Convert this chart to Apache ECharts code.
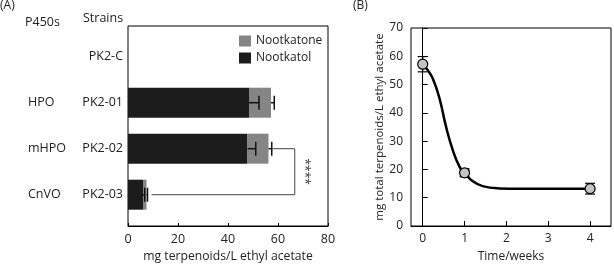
<!DOCTYPE html>
<html><head><meta charset="utf-8">
<script src="https://cdn.jsdelivr.net/npm/echarts@6/dist/echarts.min.js"></script>
<style>html,body{margin:0;padding:0;background:#fff}#c{width:614px;height:268px}</style>
</head><body><div id="c"></div>
<script>
// ---- Panel A data ----
const strains = ['PK2-C', 'PK2-01', 'PK2-02', 'PK2-03'];
const p450s = ['', 'HPO', 'mHPO', 'CnVO'];
const nootkatol = [0, 48.4, 47.8, 6.0];
const nootkatone = [0, 8.8, 8.4, 1.4];
const nootkatolErr = [0, 4.0, 3.3, 0.7];
const totalErr = [0, 1.3, 1.3, 0.4];
const sigFromStrain = 2, sigToStrain = 3;
const sigBracketX = [57.5, 66.7, 9.4];
const sigLabel = '****';
// ---- Panel B data ----
const weeks = [0, 1, 4];
const totalTerp = [57.2, 18.8, 13.2];
const totalTerpErr = [2.7, 1.4, 1.9];
const fitWeeks = [0, 0.115, 0.235, 0.396, 0.556, 0.715, 0.875, 1.0, 1.19, 1.43, 1.83, 2.3, 3, 4];
const fitValues = [57.2, 55.2, 52.3, 45.4, 35.2, 27.0, 21.1, 18.8, 15.9, 14.1, 13.3, 13.2, 13.2, 13.2];
const weekTicks = [0, 1, 2, 3, 4];

const FONT = 'Open Sans';
const TXT = '#222';

const errA = [];
for (let i = 0; i < strains.length; i++) {
  if (nootkatol[i] > 0) errA.push([i, nootkatol[i], nootkatol[i] + nootkatolErr[i]]);
  const tot = nootkatol[i] + nootkatone[i];
  if (tot > 0) errA.push([i, tot, tot + totalErr[i]]);
}

const chart = echarts.init(document.getElementById('c'), null, {renderer: 'canvas'});
chart.setOption({
  animation: false,
  backgroundColor: '#fff',
  textStyle: {fontFamily: FONT, color: TXT},
  grid: [
    {left: 128, right: 286, top: 26, bottom: 42, show: true, borderColor: '#000', borderWidth: 1, backgroundColor: 'transparent'},
    {left: 128, right: 286, top: 33.7, height: 184},
    {left: 411, right: 3, top: 28, bottom: 41, show: true, borderColor: '#000', borderWidth: 1, backgroundColor: 'transparent'}
  ],
  legend: {
    data: ['Nootkatone', 'Nootkatol'], orient: 'vertical', left: 239, top: 35,
    itemWidth: 12, itemHeight: 11, itemGap: 5, icon: 'rect',
    textStyle: {fontSize: 12, color: TXT, fontFamily: FONT}, padding: 0
  },
  xAxis: [
    {gridIndex: 0, type: 'value', min: 0, max: 80, interval: 20,
     axisLine: {show: true, lineStyle: {color: '#000'}}, axisTick: {show: true, inside: true, length: 3, lineStyle: {color: '#000'}},
     splitLine: {show: false}, axisLabel: {fontSize: 12.5, color: TXT, margin: 7, fontFamily: FONT},
     name: 'mg terpenoids/L ethyl acetate', nameLocation: 'middle', nameGap: 22,
     nameTextStyle: {fontSize: 12.2, color: TXT, fontFamily: FONT}},
    {gridIndex: 1, type: 'value', min: 0, max: 80, show: false},
    {gridIndex: 2, type: 'value', min: -0.28, max: 4.5,
     axisLine: {show: true, lineStyle: {color: '#000'}},
     axisTick: {show: true, inside: true, length: 5, customValues: weekTicks, lineStyle: {color: '#000'}},
     axisLabel: {fontSize: 12, color: TXT, margin: 7, customValues: weekTicks, fontFamily: FONT},
     splitLine: {show: false},
     name: 'Time/weeks', nameLocation: 'middle', nameGap: 25,
     nameTextStyle: {fontSize: 12, color: TXT, fontFamily: FONT}}
  ],
  yAxis: [
    {gridIndex: 0, type: 'value', show: false},
    {gridIndex: 1, type: 'category', data: strains, inverse: true,
     axisLine: {show: false}, axisTick: {show: false},
     axisLabel: {fontSize: 12.5, color: TXT, margin: 5, fontFamily: FONT}},
    {gridIndex: 1, type: 'category', data: p450s, inverse: true, position: 'left', offset: 100,
     axisLine: {show: false}, axisTick: {show: false},
     axisLabel: {inside: true, margin: 0, fontSize: 12.5, color: TXT, fontFamily: FONT}},
    {gridIndex: 2, type: 'value', min: 0, max: 70, interval: 10,
     axisLine: {show: true, lineStyle: {color: '#000'}},
     axisTick: {show: true, inside: true, length: 5, lineStyle: {color: '#000'}},
     axisLabel: {fontSize: 12, color: TXT, margin: 8, fontFamily: FONT, padding: [4, 0, 0, 0]},
     splitLine: {show: false},
     name: 'mg total terpenoids/L ethyl acetate', nameLocation: 'middle', nameGap: 21,
     nameTextStyle: {fontSize: 11.5, color: TXT, fontFamily: FONT}}
  ],
  series: [
    {name: 'Nootkatol', type: 'bar', stack: 'a', xAxisIndex: 1, yAxisIndex: 1, data: nootkatol,
     barWidth: 30, itemStyle: {color: '#1c1c1c'}},
    {name: 'Nootkatone', type: 'bar', stack: 'a', xAxisIndex: 1, yAxisIndex: 1, data: nootkatone,
     barWidth: 30, itemStyle: {color: '#858585'}},
    {type: 'custom', xAxisIndex: 1, yAxisIndex: 1, data: errA, z: 5,
     renderItem: function (params, api) {
       const a = api.coord([api.value(1), api.value(0)]);
       const b = api.coord([api.value(2), api.value(0)]);
       const h = 7;
       return {type: 'group', children: [
         {type: 'line', shape: {x1: a[0], y1: a[1], x2: b[0], y2: b[1]}, style: {stroke: '#111', lineWidth: 1.5}},
         {type: 'line', shape: {x1: b[0], y1: b[1] - h, x2: b[0], y2: b[1] + h}, style: {stroke: '#111', lineWidth: 1.5}}
       ]};
     }},
    {type: 'custom', xAxisIndex: 1, yAxisIndex: 1, data: [[sigFromStrain, sigToStrain].concat(sigBracketX)], z: 5,
     renderItem: function (params, api) {
       const p1 = api.coord([api.value(2), api.value(0)]);
       const p2 = api.coord([api.value(3), api.value(0)]);
       const p3 = api.coord([api.value(3), api.value(1)]);
       const p4 = api.coord([api.value(4), api.value(1)]);
       const tx = p2[0] + 10, ty = (p2[1] + p3[1]) / 2;
       return {type: 'group', children: [
         {type: 'polyline', shape: {points: [p1, p2, p3, p4]}, style: {stroke: '#444', lineWidth: 1, fill: null}},
         {type: 'text', x: tx, y: ty, rotation: -Math.PI / 2,
          style: {text: sigLabel, fontSize: 12, fontFamily: FONT, fill: '#333', align: 'center', verticalAlign: 'middle'}}
       ]};
     }},
    {type: 'line', xAxisIndex: 2, yAxisIndex: 3, data: fitWeeks.map((w, i) => [w, fitValues[i]]),
     smooth: 0.5, showSymbol: false, symbol: 'none', lineStyle: {color: '#000', width: 2.5}, z: 2},
    {type: 'custom', xAxisIndex: 2, yAxisIndex: 3, data: weeks.map((w, i) => [w, totalTerp[i] - totalTerpErr[i], totalTerp[i] + totalTerpErr[i]]), z: 3,
     renderItem: function (params, api) {
       const lo = api.coord([api.value(0), api.value(1)]);
       const hi = api.coord([api.value(0), api.value(2)]);
       const w = 5;
       const st = {stroke: '#000', lineWidth: 1.2};
       return {type: 'group', children: [
         {type: 'line', shape: {x1: lo[0], y1: lo[1], x2: hi[0], y2: hi[1]}, style: st},
         {type: 'line', shape: {x1: lo[0] - w, y1: lo[1], x2: lo[0] + w, y2: lo[1]}, style: st},
         {type: 'line', shape: {x1: hi[0] - w, y1: hi[1], x2: hi[0] + w, y2: hi[1]}, style: st}
       ]};
     }},
    {type: 'scatter', xAxisIndex: 2, yAxisIndex: 3, data: weeks.map((w, i) => [w, totalTerp[i]]),
     symbol: 'circle', symbolSize: 10, itemStyle: {color: '#c4c4c4', borderColor: '#000', borderWidth: 1.2, opacity: 1}, z: 4}
  ],
  graphic: [
    {type: 'text', left: 0, top: 0, style: {text: '(A)', fontSize: 12, fontFamily: FONT, fill: TXT}},
    {type: 'text', left: 25, top: 16, style: {text: 'P450s', fontSize: 12.5, fontFamily: FONT, fill: TXT}},
    {type: 'text', left: 83, top: 12, style: {text: 'Strains', fontSize: 12.5, fontFamily: FONT, fill: TXT}},
    {type: 'text', left: 353, top: 0, style: {text: '(B)', fontSize: 12, fontFamily: FONT, fill: TXT}}
  ]
});
</script></body></html>
